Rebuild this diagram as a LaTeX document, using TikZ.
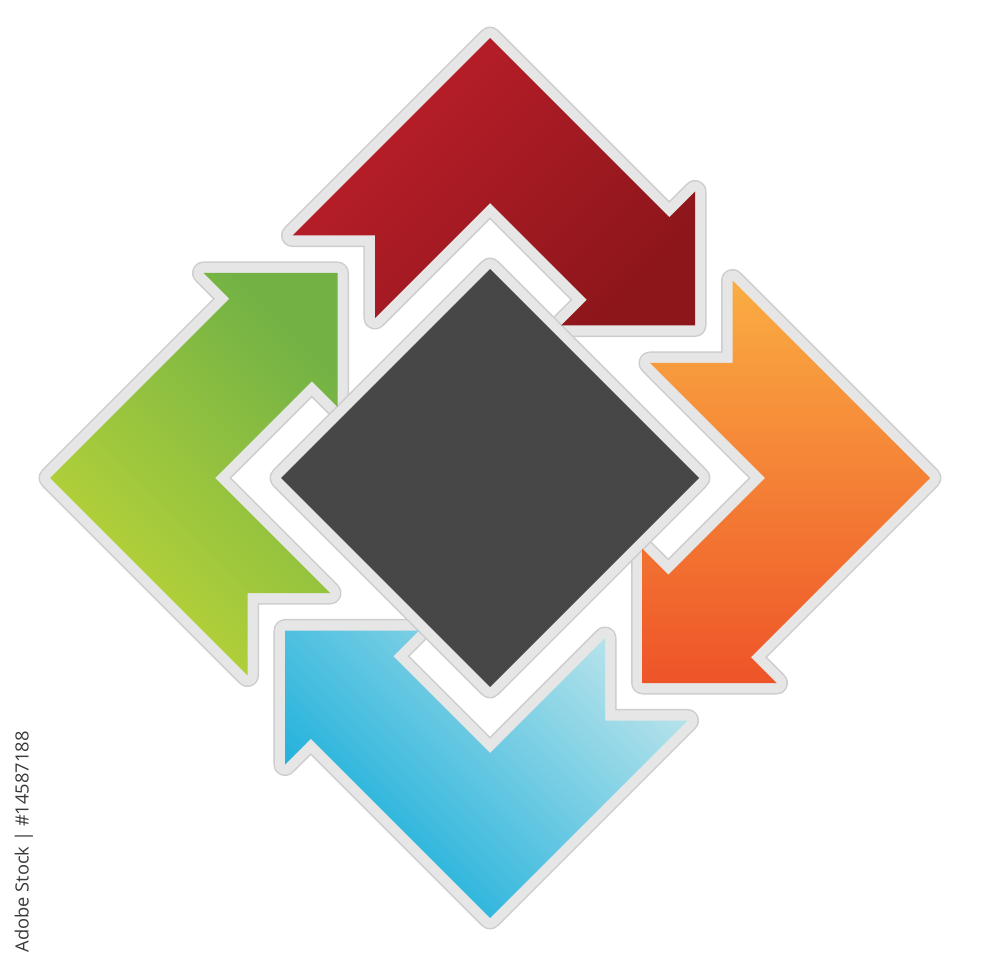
\documentclass[tikz,border=0pt]{standalone}
\usepackage{fontspec}
\usepackage{tikz}
\newfontfamily\stockfont{Open Sans}
\definecolor{redlight}{HTML}{BE1F2B}
\definecolor{reddark}{HTML}{8D161B}
\definecolor{orangelight}{HTML}{FAAD43}
\definecolor{orangedark}{HTML}{EE5428}
\definecolor{bluelight}{HTML}{B2E1EA}
\definecolor{bluedark}{HTML}{12ACDA}
\definecolor{greenlight}{HTML}{BED637}
\definecolor{greendark}{HTML}{72B245}
\definecolor{rimgray}{HTML}{E6E6E6}
\definecolor{rimedge}{HTML}{CDCDCD}
\definecolor{corefill}{HTML}{474747}
\definecolor{stocktext}{HTML}{3A3A3A}
\newcommand{\cyclearrow}{(0,440) -- (179.25,260.75) -- (205,286.5) -- (205,152.5) -- (71,152.5) -- (96.75,178.25) -- (0,275) -- (-115,160) -- (-115,242.5) -- (-197.5,242.5) -- cycle}
\newcommand{\corediamond}{(0,209) -- (209,0) -- (0,-209) -- (-209,0) -- cycle}
\tikzset{
  rimout/.style={draw=rimedge, line width=2.3mm, line join=round},
  rimin/.style={draw=rimgray, line width=2mm, line join=round}
}

\begin{document}
\begin{tikzpicture}[x=0.01cm, y=0.01cm]
\useasboundingbox (0,0) rectangle (1000,960);
\begin{scope}[shift={(490,482)}]
% gray rims
\foreach \ang in {0,-90,-180,-270} {
  \draw[rimout, rotate=\ang] \cyclearrow;
  \draw[rimin, rotate=\ang] \cyclearrow;
}
\draw[rimout] \corediamond;
\draw[rimin] \corediamond;
% coloured arrows
\foreach \ang/\cola/\colb/\sang in {0/redlight/reddark/45, -90/orangelight/orangedark/0, -180/bluedark/bluelight/135, -270/greenlight/greendark/135} {
  \shade[rotate=\ang, left color=\cola, right color=\colb, shading angle=\sang] \cyclearrow;
}
\fill[corefill] \corediamond;
\end{scope}
\node[rotate=90, text=stocktext, font=\stockfont\fontsize{5.2pt}{6pt}\selectfont, inner sep=0pt] (stockid) at (24,118) {Adobe Stock | \#14587188};
\end{tikzpicture}
\end{document}
